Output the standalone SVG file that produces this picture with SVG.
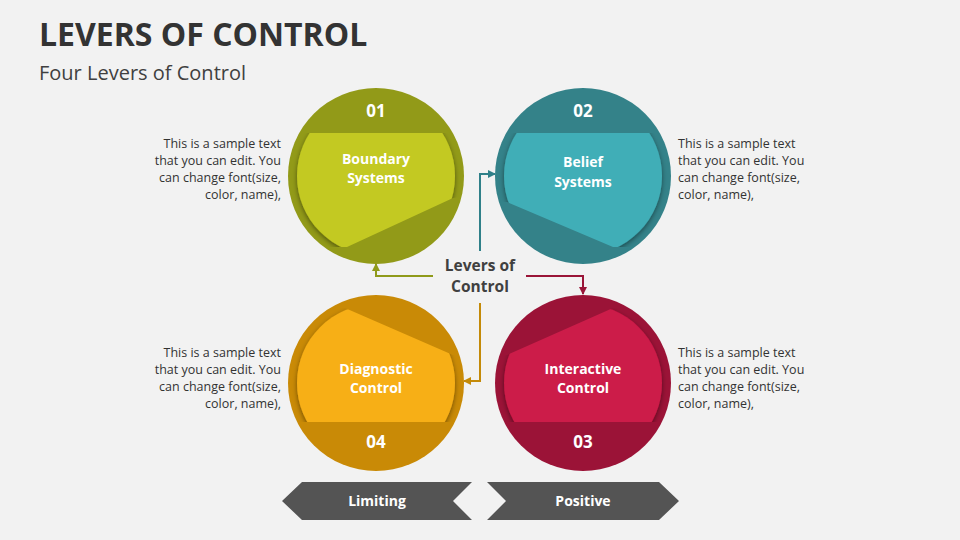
<svg xmlns="http://www.w3.org/2000/svg" width="960" height="540" viewBox="0 0 960 540">
<defs>
<style>
text{font-family:"Open Sans","Liberation Sans",sans-serif}
.num{font-size:17px;font-weight:bold;fill:#fff;text-anchor:middle}
.lbl{font-size:14px;font-weight:bold;fill:#fff;text-anchor:middle}
.body{font-size:12.5px;fill:#333}
.conn{fill:none;stroke-width:2}
</style>
<filter id="sh" x="-20%" y="-20%" width="140%" height="140%"><feDropShadow dx="0" dy="2" stdDeviation="2.5" flood-opacity="0.45"/></filter>
<clipPath id="c1"><polygon points="290,133 470,133 470,196 453,198 347,247 290,247"/></clipPath>
<clipPath id="c2"><polygon points="490,133 670,133 670,247 613,247 507,202 490,202"/></clipPath>
<clipPath id="c3"><polygon points="490,422 670,422 670,300 613,308 507,355 490,355"/></clipPath>
<clipPath id="c4"><polygon points="290,422 470,422 470,355 453,355 345,308 290,308"/></clipPath>
<marker id="a1" markerWidth="8" markerHeight="8" refX="7" refY="4" orient="auto" markerUnits="userSpaceOnUse"><path d="M0,0L8,4L0,8z" fill="#8f9a1a"/></marker>
<marker id="a2" markerWidth="8" markerHeight="8" refX="7" refY="4" orient="auto" markerUnits="userSpaceOnUse"><path d="M0,0L8,4L0,8z" fill="#2f8089"/></marker>
<marker id="a3" markerWidth="8" markerHeight="8" refX="7" refY="4" orient="auto" markerUnits="userSpaceOnUse"><path d="M0,0L8,4L0,8z" fill="#9a1538"/></marker>
<marker id="a4" markerWidth="8" markerHeight="8" refX="7" refY="4" orient="auto" markerUnits="userSpaceOnUse"><path d="M0,0L8,4L0,8z" fill="#c48a08"/></marker>
</defs>
<rect width="960" height="540" fill="#f2f2f2"/>
<text x="39" y="46" font-size="32" font-weight="bold" fill="#333">LEVERS OF CONTROL</text>
<text x="39" y="80" font-size="20" fill="#404040">Four Levers of Control</text>

<g id="node1">
<circle cx="376" cy="176" r="88" fill="#929a18"/>
<g clip-path="url(#c1)"><circle cx="376" cy="176" r="79" fill="#c3c921" filter="url(#sh)"/></g>
<text class="num" x="376" y="117">01</text>
<text class="lbl" x="376" y="164">Boundary</text>
<text class="lbl" x="376" y="183">Systems</text>
</g>
<g id="node2">
<circle cx="583" cy="176" r="88" fill="#348289"/>
<g clip-path="url(#c2)"><circle cx="583" cy="176" r="79" fill="#40aeb7" filter="url(#sh)"/></g>
<text class="num" x="583" y="117">02</text>
<text class="lbl" x="583" y="167">Belief</text>
<text class="lbl" x="583" y="187">Systems</text>
</g>
<g id="node3">
<circle cx="583" cy="383" r="88" fill="#9b1337"/>
<g clip-path="url(#c3)"><circle cx="583" cy="383" r="79" fill="#cc1a48" filter="url(#sh)"/></g>
<text class="num" x="583" y="448">03</text>
<text class="lbl" x="583" y="374">Interactive</text>
<text class="lbl" x="583" y="393">Control</text>
</g>
<g id="node4">
<circle cx="376" cy="383" r="88" fill="#c98a06"/>
<g clip-path="url(#c4)"><circle cx="376" cy="383" r="79" fill="#f7af18" filter="url(#sh)"/></g>
<text class="num" x="376" y="448">04</text>
<text class="lbl" x="376" y="374">Diagnostic</text>
<text class="lbl" x="376" y="393">Control</text>
</g>

<g id="center">
<text x="480" y="271" font-size="15.5" font-weight="bold" fill="#404040" text-anchor="middle">Levers of</text>
<text x="480" y="292" font-size="15.5" font-weight="bold" fill="#404040" text-anchor="middle">Control</text>
</g>

<g id="connectors">
<path class="conn" stroke="#2f8089" d="M480,251V174H495" marker-end="url(#a2)"/>
<path class="conn" stroke="#8f9a1a" d="M433,276H376V264" marker-end="url(#a1)"/>
<path class="conn" stroke="#9a1538" d="M526,276H583V294" marker-end="url(#a3)"/>
<path class="conn" stroke="#c48a08" d="M480,303V381H464" marker-end="url(#a4)"/>
</g>

<g id="desc">
<g class="body" text-anchor="end">
<text x="281" y="148">This is a sample text</text><text x="281" y="165">that you can edit. You</text><text x="281" y="182">can change font(size,</text><text x="281" y="199">color, name),</text>
<text x="281" y="357">This is a sample text</text><text x="281" y="374">that you can edit. You</text><text x="281" y="391">can change font(size,</text><text x="281" y="408">color, name),</text>
</g>
<g class="body">
<text x="678" y="148">This is a sample text</text><text x="678" y="165">that you can edit. You</text><text x="678" y="182">can change font(size,</text><text x="678" y="199">color, name),</text>
<text x="678" y="357">This is a sample text</text><text x="678" y="374">that you can edit. You</text><text x="678" y="391">can change font(size,</text><text x="678" y="408">color, name),</text>
</g>
</g>

<g id="limiting">
<polygon points="282,501 302,482 472,482 453,501 472,520 302,520" fill="#545454"/>
<text x="377" y="506" font-size="14" font-weight="bold" fill="#fff" text-anchor="middle">Limiting</text>
</g>
<g id="positive">
<polygon points="487,482 659,482 679,501 659,520 487,520 506,501" fill="#545454"/>
<text x="583" y="506" font-size="14" font-weight="bold" fill="#fff" text-anchor="middle">Positive</text>
</g>
</svg>
